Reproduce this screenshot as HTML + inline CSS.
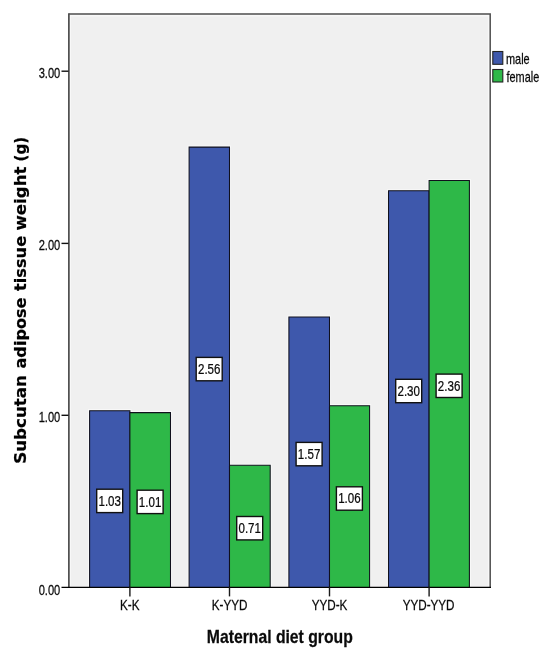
<!DOCTYPE html>
<html><head><meta charset="utf-8"><title>Chart</title>
<style>
html,body{margin:0;padding:0;background:#fff;}
body{width:550px;height:663px;overflow:hidden;}
svg{display:block;}
text{font-family:"Liberation Sans",Arial,sans-serif;fill:#0a0a0a;stroke:#0a0a0a;stroke-width:0.25px;}
.yt{font-family:"DejaVu Sans","Liberation Sans",sans-serif;font-weight:bold;fill:#000;stroke:#000;stroke-width:0.2px;}
</style></head><body>
<svg width="550" height="663" viewBox="0 0 550 663">
<rect x="0" y="0" width="550" height="663" fill="#fff"/>
<rect x="68.5" y="13.5" width="422" height="573.5" fill="#F0F0F0"/>
<path d="M70.3 586 V15.6 H488.6 V586" stroke="#fff" stroke-opacity="0.55" stroke-width="1.6" fill="none"/>
<path d="M89.6 587.3 V410.7 H129.9 V587.3" fill="none" stroke="#fff" stroke-opacity="0.5" stroke-width="3.2"/>
<path d="M129.9 587.3 V412.6 H170.5 V587.3" fill="none" stroke="#fff" stroke-opacity="0.5" stroke-width="3.2"/>
<path d="M189.1 587.3 V147.1 H229.5 V587.3" fill="none" stroke="#fff" stroke-opacity="0.5" stroke-width="3.2"/>
<path d="M229.5 587.3 V465.3 H270.2 V587.3" fill="none" stroke="#fff" stroke-opacity="0.5" stroke-width="3.2"/>
<path d="M288.9 587.3 V317.0 H329.5 V587.3" fill="none" stroke="#fff" stroke-opacity="0.5" stroke-width="3.2"/>
<path d="M329.5 587.3 V405.7 H369.6 V587.3" fill="none" stroke="#fff" stroke-opacity="0.5" stroke-width="3.2"/>
<path d="M388.5 587.3 V190.8 H429.1 V587.3" fill="none" stroke="#fff" stroke-opacity="0.5" stroke-width="3.2"/>
<path d="M429.1 587.3 V180.5 H469.4 V587.3" fill="none" stroke="#fff" stroke-opacity="0.5" stroke-width="3.2"/>
<path d="M89.6 587.3 V410.7 H129.9 V587.3" fill="#3E58AC" stroke="#10101c" stroke-width="1.05"/>
<path d="M129.9 587.3 V412.6 H170.5 V587.3" fill="#2EB848" stroke="#10101c" stroke-width="1.05"/>
<path d="M189.1 587.3 V147.1 H229.5 V587.3" fill="#3E58AC" stroke="#10101c" stroke-width="1.05"/>
<path d="M229.5 587.3 V465.3 H270.2 V587.3" fill="#2EB848" stroke="#10101c" stroke-width="1.05"/>
<path d="M288.9 587.3 V317.0 H329.5 V587.3" fill="#3E58AC" stroke="#10101c" stroke-width="1.05"/>
<path d="M329.5 587.3 V405.7 H369.6 V587.3" fill="#2EB848" stroke="#10101c" stroke-width="1.05"/>
<path d="M388.5 587.3 V190.8 H429.1 V587.3" fill="#3E58AC" stroke="#10101c" stroke-width="1.05"/>
<path d="M429.1 587.3 V180.5 H469.4 V587.3" fill="#2EB848" stroke="#10101c" stroke-width="1.05"/>
<path d="M68.9 587 V13.5" stroke="#222" stroke-width="1.35" fill="none"/>
<path d="M68.3 13.9 H490.2 V587" stroke="#505050" stroke-width="1.5" fill="none"/>
<path d="M61.5 587.3 H491" stroke="#000" stroke-width="1.3" fill="none"/>
<path d="M61.5 415.3 H68.5" stroke="#111" stroke-width="1.4"/>
<path d="M61.5 243.4 H68.5" stroke="#111" stroke-width="1.4"/>
<path d="M61.5 71.2 H68.5" stroke="#111" stroke-width="1.4"/>
<path d="M129.9 587 V596.4" stroke="#1a1a1a" stroke-width="1.4"/>
<path d="M229.5 587 V596.4" stroke="#1a1a1a" stroke-width="1.4"/>
<path d="M329.5 587 V596.4" stroke="#1a1a1a" stroke-width="1.4"/>
<path d="M429.1 587 V596.4" stroke="#1a1a1a" stroke-width="1.4"/>
<text transform="translate(60.3 594.8) scale(0.795 1)" font-size="14" text-anchor="end"  >0.00</text>
<text transform="translate(60.3 422.2) scale(0.795 1)" font-size="14" text-anchor="end"  >1.00</text>
<text transform="translate(60.3 250.3) scale(0.795 1)" font-size="14" text-anchor="end"  >2.00</text>
<text transform="translate(60.3 78.1) scale(0.795 1)" font-size="14" text-anchor="end"  >3.00</text>
<text transform="translate(129.7 610.2) scale(0.835 1)" font-size="14" text-anchor="middle"  >K-K</text>
<text transform="translate(229.6 610.2) scale(0.835 1)" font-size="14" text-anchor="middle"  >K-YYD</text>
<text transform="translate(329.5 610.2) scale(0.835 1)" font-size="14" text-anchor="middle"  >YYD-K</text>
<text transform="translate(428.6 610.2) scale(0.835 1)" font-size="14" text-anchor="middle"  >YYD-YYD</text>
<text transform="translate(279.8 642.8) scale(0.829 1)" font-size="19" text-anchor="middle"  font-weight="bold" fill="#000">Maternal diet group</text>
<text class="yt" transform="translate(26.4 463.8) rotate(-90) scale(1.07 1)" font-size="15.6" text-anchor="start">Subcutan</text>
<text class="yt" transform="translate(26.4 368.5) rotate(-90) scale(1.033 1)" font-size="15.6" text-anchor="start">adipose</text>
<text class="yt" transform="translate(26.4 290.9) rotate(-90) scale(1.038 1)" font-size="15.6" text-anchor="start">tissue</text>
<text class="yt" transform="translate(26.4 230.5) rotate(-90) scale(1.065 1)" font-size="15.6" text-anchor="start">weight</text>
<text class="yt" transform="translate(26.4 161.4) rotate(-90) scale(0.97 1)" font-size="15.6" text-anchor="start">(g)</text>
<rect x="492.8" y="51.5" width="10" height="12.8" fill="#3E58AC" stroke="#222" stroke-width="1.1"/>
<rect x="492.8" y="69.5" width="10" height="12.5" fill="#2EB848" stroke="#222" stroke-width="1.1"/>
<text transform="translate(506 63.6) scale(0.78 1)" font-size="14" text-anchor="start"  >male</text>
<text transform="translate(506.5 82) scale(0.78 1)" font-size="14" text-anchor="start"  >female</text>
<rect x="96.7" y="489.2" width="26.0" height="23.4" fill="#fff" stroke="#111" stroke-width="1.4"/>
<text transform="translate(109.7 505.9) scale(0.77 1)" font-size="15" text-anchor="middle"  >1.03</text>
<rect x="137.1" y="490.2" width="26.0" height="23.4" fill="#fff" stroke="#111" stroke-width="1.4"/>
<text transform="translate(150.1 506.9) scale(0.77 1)" font-size="15" text-anchor="middle"  >1.01</text>
<rect x="196.2" y="357.4" width="26.0" height="23.4" fill="#fff" stroke="#111" stroke-width="1.4"/>
<text transform="translate(209.2 374.1) scale(0.77 1)" font-size="15" text-anchor="middle"  >2.56</text>
<rect x="236.7" y="516.5" width="26.0" height="23.4" fill="#fff" stroke="#111" stroke-width="1.4"/>
<text transform="translate(249.7 533.2) scale(0.77 1)" font-size="15" text-anchor="middle"  >0.71</text>
<rect x="296.1" y="442.4" width="26.0" height="23.4" fill="#fff" stroke="#111" stroke-width="1.4"/>
<text transform="translate(309.1 459.1) scale(0.77 1)" font-size="15" text-anchor="middle"  >1.57</text>
<rect x="336.4" y="486.8" width="26.0" height="23.4" fill="#fff" stroke="#111" stroke-width="1.4"/>
<text transform="translate(349.4 503.4) scale(0.77 1)" font-size="15" text-anchor="middle"  >1.06</text>
<rect x="395.7" y="379.3" width="26.0" height="23.4" fill="#fff" stroke="#111" stroke-width="1.4"/>
<text transform="translate(408.7 396.0) scale(0.77 1)" font-size="15" text-anchor="middle"  >2.30</text>
<rect x="436.1" y="374.1" width="26.0" height="23.4" fill="#fff" stroke="#111" stroke-width="1.4"/>
<text transform="translate(449.1 390.8) scale(0.77 1)" font-size="15" text-anchor="middle"  >2.36</text>
</svg></body></html>
